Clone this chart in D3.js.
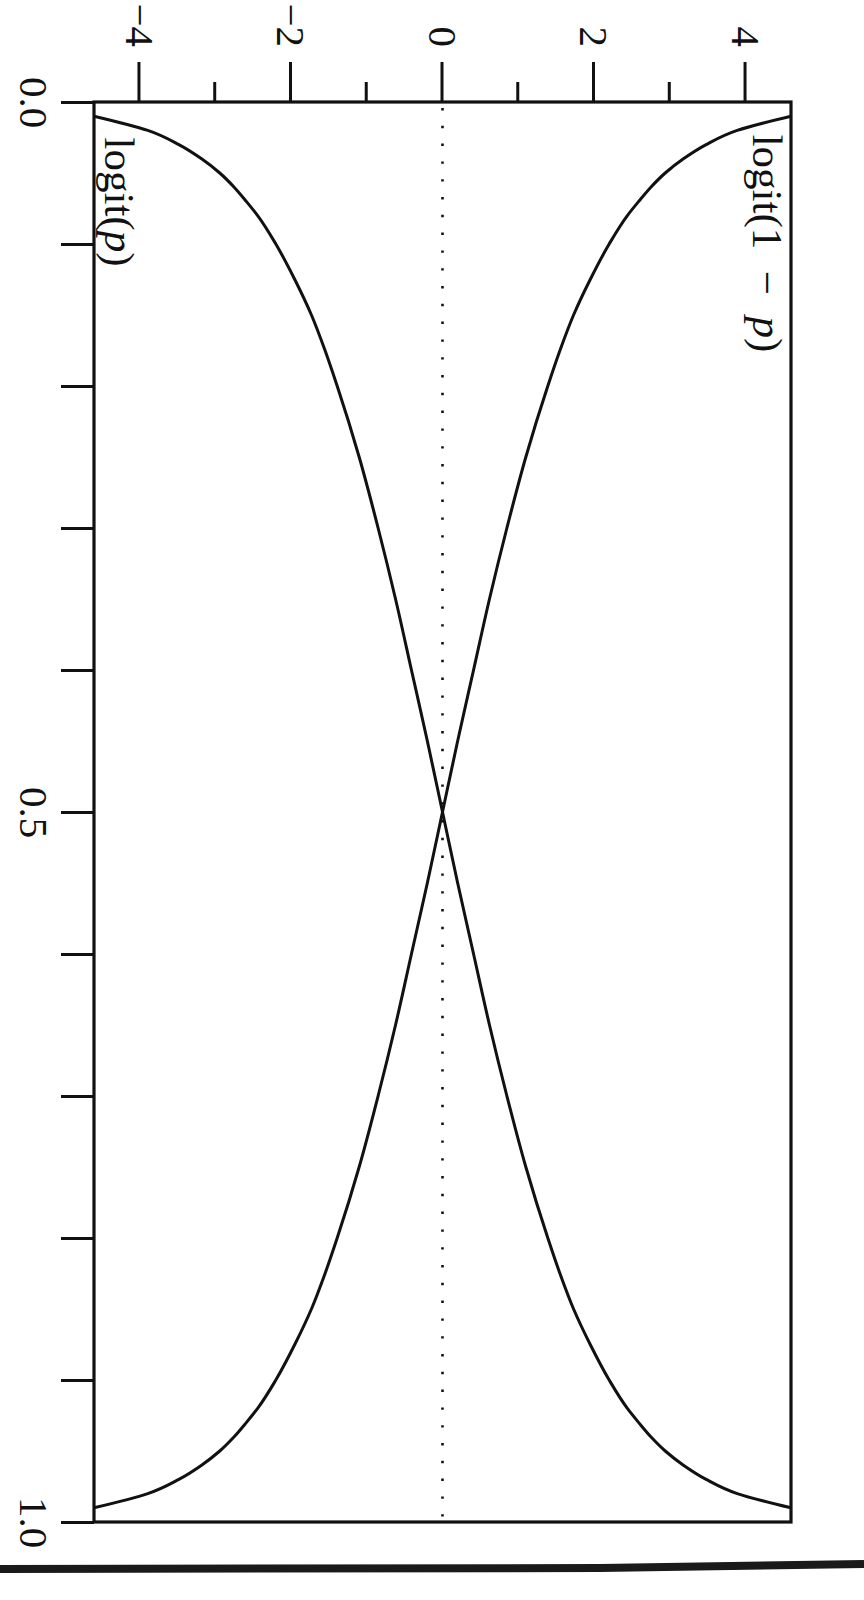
<!DOCTYPE html>
<html>
<head>
<meta charset="utf-8">
<script src="https://cdn.jsdelivr.net/npm/d3@7"></script>
<style>
  body { margin: 0; background: #fff; }
  svg text { font-family: "Liberation Serif", "DejaVu Serif", serif; fill: #111; }
  .axis line { stroke: #111; stroke-width: 3; }
  .axis path { display: none; }
</style>
</head>
<body>
<div id="chart"></div>
<script>
const pValues = [0.01, 0.02, 0.03, 0.04, 0.05, 0.06, 0.07, 0.08, 0.10, 0.125, 0.15, 0.175,
  0.20, 0.25, 0.30, 0.35, 0.40, 0.45, 0.50, 0.55, 0.60, 0.65, 0.70, 0.75, 0.80, 0.825,
  0.85, 0.875, 0.90, 0.92, 0.93, 0.94, 0.95, 0.96, 0.97, 0.98, 0.99]

// logit(p)
const logitP = [-4.60, -3.89, -3.48, -3.18, -2.94, -2.75, -2.59, -2.44, -2.20, -1.95, -1.73, -1.55,
  -1.39, -1.10, -0.85, -0.62, -0.41, -0.20, 0.00, 0.20, 0.41, 0.62, 0.85, 1.10, 1.39, 1.55,
  1.73, 1.95, 2.20, 2.44, 2.59, 2.75, 2.94, 3.18, 3.48, 3.89, 4.60]

// logit(1 - p)
const logitOneMinusP = [4.60, 3.89, 3.48, 3.18, 2.94, 2.75, 2.59, 2.44, 2.20, 1.95, 1.73, 1.55,
  1.39, 1.10, 0.85, 0.62, 0.41, 0.20, 0.00, -0.20, -0.41, -0.62, -0.85, -1.10, -1.39, -1.55,
  -1.73, -1.95, -2.20, -2.44, -2.59, -2.75, -2.94, -3.18, -3.48, -3.89, -4.60]

const pTicks = [0, 0.1, 0.2, 0.3, 0.4, 0.5, 0.6, 0.7, 0.8, 0.9, 1.0]
const pTickLabels = { 0: '0.0', 0.5: '0.5', 1: '1.0' }
const logitMajorTicks = [-4, -2, 0, 2, 4]
const logitMinorTicks = [-3, -1, 1, 3]
const logitDomain = [-4.6, 4.6]

const width = 864
const height = 1600

// The page is a scan of a figure printed sideways: draw it upright in a group
// and turn the group 90deg clockwise.
const frame = { left: 94, right: 791, top: 102, bottom: 1522 }
const innerWidth = frame.bottom - frame.top   // p axis length
const innerHeight = frame.right - frame.left  // logit axis length

const svg = d3.select('#chart')
  .append('svg')
  .attr('width', width)
  .attr('height', height)

const g = svg.append('g')
  .attr('transform', `translate(${frame.right}, ${frame.top}) rotate(90)`)

const xScale = d3.scaleLinear().domain([0, 1]).range([0, innerWidth])
const yScale = d3.scaleLinear().domain(logitDomain).range([innerHeight, 0])

//===========================================================================

// Bottom axis - p
g.append('g')
  .attr('class', 'axis x')
  .attr('transform', `translate(0, ${innerHeight})`)
  .call(d3.axisBottom(xScale)
    .tickValues(pTicks)
    .tickSize(33)
    .tickSizeOuter(0)
    .tickPadding(12)
    .tickFormat(d => pTickLabels[d] || ''))
  .selectAll('text')
  .attr('font-size', 41)

// Left axis - minor ticks, no labels
g.append('g')
  .attr('class', 'axis y-minor')
  .call(d3.axisLeft(yScale)
    .tickValues(logitMinorTicks)
    .tickSize(20)
    .tickSizeOuter(0)
    .tickFormat(''))

// Left axis - labelled ticks
g.append('g')
  .attr('class', 'axis y')
  .call(d3.axisLeft(yScale)
    .tickValues(logitMajorTicks)
    .tickSize(40)
    .tickSizeOuter(0)
    .tickPadding(15)
    .tickFormat(d3.format('d')))
  .selectAll('text')
  .attr('font-size', 41)

// Box round the plot
g.append('rect')
  .attr('x', 0)
  .attr('y', 0)
  .attr('width', innerWidth)
  .attr('height', innerHeight)
  .attr('fill', 'none')
  .attr('stroke', '#111')
  .attr('stroke-width', 3.2)

// Dotted zero line
g.append('line')
  .attr('x1', xScale(0))
  .attr('x2', xScale(1))
  .attr('y1', yScale(0))
  .attr('y2', yScale(0))
  .attr('stroke', '#111')
  .attr('stroke-width', 2.6)
  .attr('stroke-dasharray', '2.4 15.4')
  .attr('stroke-dashoffset', -6)

//===========================================================================

const line = d3.line()
  .x(d => xScale(d.p))
  .y(d => yScale(d.v))
  .curve(d3.curveMonotoneX)

const series = [logitP, logitOneMinusP].map(vals => pValues.map((p, i) => ({ p, v: vals[i] })))

g.selectAll('.curve')
  .data(series)
  .enter()
  .append('path')
  .attr('class', 'curve')
  .attr('d', line)
  .attr('fill', 'none')
  .attr('stroke', '#111')
  .attr('stroke-width', 3)
  .attr('stroke-linejoin', 'round')

// Curve labels
const lab1 = g.append('text')
  .attr('x', xScale(0.025))
  .attr('y', innerHeight - 11)
  .attr('font-size', 43)
lab1.append('tspan').text('logit(')
lab1.append('tspan').attr('font-style', 'italic').text('p')
lab1.append('tspan').text(')')

const lab2 = g.append('text')
  .attr('x', xScale(0.023))
  .attr('y', 38)
  .attr('font-size', 43)
lab2.append('tspan').text('logit(1\u2002\u2212\u2002')
lab2.append('tspan').attr('font-style', 'italic').text('p')
lab2.append('tspan').text(')')

// Edge of the scanned page
svg.append('path')
  .attr('d', `M0,${height - 31} L600,${height - 32} L864,${height - 36}`)
  .attr('fill', 'none')
  .attr('stroke', '#1a1a1a')
  .attr('stroke-width', 8)
</script>
</body>
</html>
